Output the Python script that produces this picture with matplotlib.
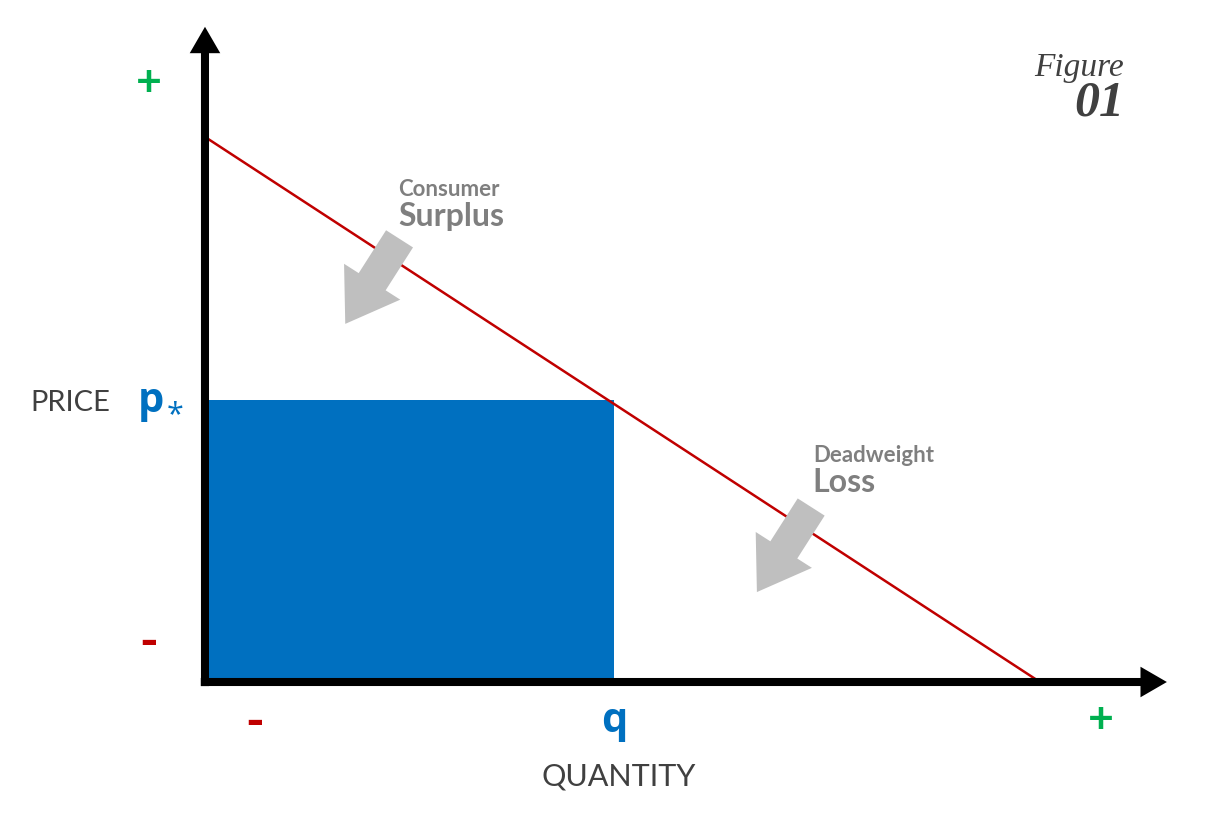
import matplotlib.pyplot as plt
from matplotlib.patches import Rectangle, FancyArrowPatch
from matplotlib.transforms import blended_transform_factory

# demand curve: price falls linearly as quantity rises
demand_q = [0, 10]
demand_p = [10, 0]

# market point
q_star = 4.9
p_star = 5.17

# where the axis arrows end
x_axis_end = 11.52
y_axis_end = 12.02

# callouts: small word, big word, text anchor, arrow tail, arrow head
callout_small = ["Consumer", "Deadweight"]
callout_big = ["Surplus", "Loss"]
callout_text_xy = [(2.31, 9.06), (7.28, 4.18)]
callout_tail = [(2.33, 8.13), (7.26, 3.21)]
callout_head = [(1.68, 6.57), (6.61, 1.65)]

BLUE = "#0070C0"
RED = "#C00000"
GREEN = "#00B050"
GREY_ARROW = "#BFBFBF"
GREY_TEXT = "#7F7F7F"
DARK = "#404040"

W, H = 1227, 828


def at(px, py):
    # pixel position -> figure fraction
    return px / W, 1 - py / H


fig = plt.figure(figsize=(W / 100, H / 100), dpi=100)
ax = fig.add_axes([0, 0, 1, 1])
ax.set_xlim(-2.455, 12.24)
ax.set_ylim(-2.66, 12.53)
ax.axis("off")

# revenue box and demand line
ax.add_patch(Rectangle((0, 0), q_star, p_star, color=BLUE, lw=0, zorder=1))
ax.plot(demand_q, demand_p, color=RED, lw=1.8, zorder=2)

# axes drawn as thick arrows
axis_style = "simple,head_length=19,head_width=22,tail_width=5.8"
for tail, head in [((-0.05, 0), (x_axis_end, 0)), ((0, -0.075), (0, y_axis_end))]:
    ax.add_patch(FancyArrowPatch(tail, head, arrowstyle=axis_style, mutation_scale=1,
                                 color="black", lw=0, shrinkA=0, shrinkB=0, zorder=4))

# grey callout arrows and their labels
call_style = "simple,head_length=36,head_width=48,tail_width=23"
for small, big, txy, tail, head in zip(callout_small, callout_big, callout_text_xy,
                                       callout_tail, callout_head):
    ax.add_patch(FancyArrowPatch(tail, head, arrowstyle=call_style, mutation_scale=1,
                                 color=GREY_ARROW, lw=0, shrinkA=0, shrinkB=0, zorder=3))
    ax.text(txy[0], txy[1], small, family="Lato", weight="bold", fontsize=16,
            color=GREY_TEXT, ha="left", va="center")
    ax.text(txy[0], txy[1] - 0.51, big, family="Lato", weight="bold", fontsize=23,
            color=GREY_TEXT, ha="left", va="center")

# axis labels
fig.text(*at(70, 403), "PRICE", family="Lato", fontsize=21,
         color=DARK, ha="center", va="center")
fig.text(*at(619, 777), "QUANTITY", family="Lato", fontsize=22,
         color=DARK, ha="center", va="center")

py_tr = blended_transform_factory(fig.transFigure, ax.transData)
qx_tr = blended_transform_factory(ax.transData, fig.transFigure)
ax.text(151 / W, p_star, "p", transform=py_tr, family="Open Sans", weight="bold",
        fontsize=30, color=BLUE, ha="center", va="center")
ax.text(175 / W, p_star - 0.25, "*", transform=py_tr, family="Open Sans",
        fontsize=22, color=BLUE, ha="center", va="center")
ax.text(q_star, 1 - 722 / H, "q", transform=qx_tr, family="Open Sans", weight="bold",
        fontsize=30, color=BLUE, ha="center", va="center")

# plus / minus markers
for xy in [(149, 83), (1101, 720)]:
    fig.text(*at(*xy), "+", family="Lato", weight="bold", fontsize=32,
             color=GREEN, ha="center", va="center")
for xy in [(149, 643), (255, 723)]:
    fig.text(*at(*xy), "-", family="Lato", weight="black", fontsize=36,
             color=RED, ha="center", va="center")

# figure tag
fig.text(*at(1124, 68), "Figure", family="Liberation Serif", style="italic",
         fontsize=24, color=DARK, ha="right", va="center")
fig.text(*at(1124, 103), "01", family="Liberation Serif", style="italic",
         weight="bold", fontsize=36, color=DARK, ha="right", va="center")

fig.savefig("out.png", dpi=100, facecolor="white")
